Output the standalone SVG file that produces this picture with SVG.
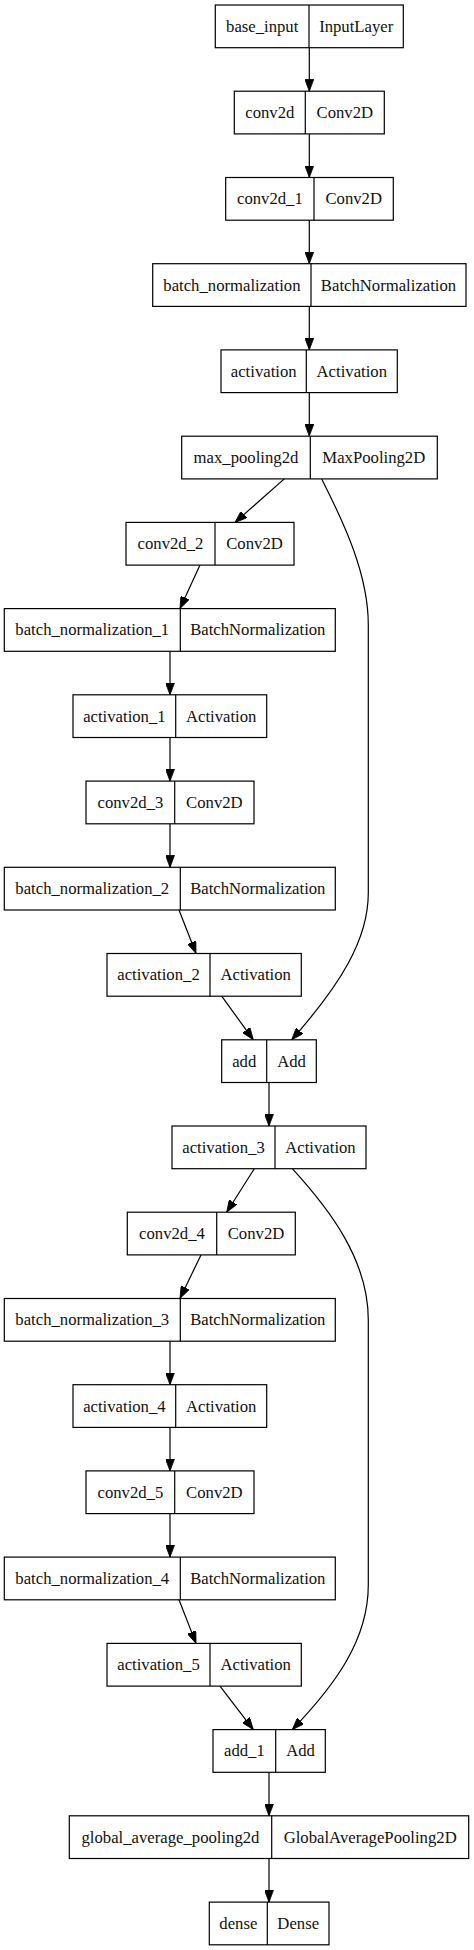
<svg xmlns="http://www.w3.org/2000/svg" width="474" height="1950" viewBox="0 0 474 1950">
<style>
rect{fill:#fff;stroke:#000;stroke-width:1.2}
.d{stroke:#000;stroke-width:1.2}
text{font-family:"Liberation Serif","Times New Roman",serif;font-size:16.7px;fill:#111;text-anchor:middle}
.e path{fill:none;stroke:#000;stroke-width:1.2;marker-end:url(#ah)}
</style>
<defs>
<marker id="ah" markerUnits="userSpaceOnUse" viewBox="0 0 12 9" refX="12" refY="4.5" markerWidth="12" markerHeight="9" orient="auto">
<path d="M0,0 L12,4.5 L0,9 z" fill="#000" stroke="#000" stroke-width="0.8"/>
</marker>
</defs>
<rect x="0" y="0" width="474" height="1950" style="stroke:none"/>
<g class="e" id="edges">
<path d="M309.3,47.7 L309.3,91.2"/>
<path d="M309.3,133.9 L309.3,177.5"/>
<path d="M309.3,220.2 L309.3,263.7"/>
<path d="M309.3,306.4 L309.3,349.9"/>
<path d="M309.3,392.6 L309.3,436.1"/>
<path d="M284.3,478.9 L235,522.4"/>
<path d="M321.7,478.9 C345,525 368.3,575 368.3,625 L368.3,893 C368.3,940 340,985 291.7,1039.8"/>
<path d="M200,565.1 L180,608.6"/>
<path d="M170,651.3 L170,694.8"/>
<path d="M170,737.5 L170,781.1"/>
<path d="M170,823.8 L170,867.3"/>
<path d="M179,910 L196,953.5"/>
<path d="M221.7,996.2 L253.3,1039.8"/>
<path d="M269,1082.5 L269,1126"/>
<path d="M254.3,1168.7 L226.7,1212.2"/>
<path d="M292.3,1168.7 C330,1210 368.3,1260 368.3,1320 L368.3,1585 C368.3,1640 335,1685 292.3,1729.6"/>
<path d="M201,1254.9 L180,1298.4"/>
<path d="M170,1341.2 L170,1384.7"/>
<path d="M170,1427.4 L170,1470.9"/>
<path d="M170,1513.6 L170,1557.1"/>
<path d="M179,1599.8 L196,1643.4"/>
<path d="M220,1686.1 L253.3,1729.6"/>
<path d="M269,1772.3 L269,1815.8"/>
<path d="M269,1858.5 L269,1902.1"/>
</g>
<g id="base_input"><rect x="215.3" y="5" width="188" height="42.7"/><line class="d" x1="309" y1="5" x2="309" y2="47.7"/><text x="262.2" y="31.8">base_input</text><text x="356.2" y="31.8">InputLayer</text></g>
<g id="conv2d"><rect x="234.3" y="91.2" width="150" height="42.7"/><line class="d" x1="305.3" y1="91.2" x2="305.3" y2="133.9"/><text x="269.8" y="118">conv2d</text><text x="344.8" y="118">Conv2D</text></g>
<g id="conv2d_1"><rect x="225.7" y="177.5" width="167.6" height="42.7"/><line class="d" x1="314" y1="177.5" x2="314" y2="220.2"/><text x="269.9" y="204.3">conv2d_1</text><text x="353.7" y="204.3">Conv2D</text></g>
<g id="batch_normalization"><rect x="152.7" y="263.7" width="313.3" height="42.7"/><line class="d" x1="311" y1="263.7" x2="311" y2="306.4"/><text x="231.9" y="290.5">batch_normalization</text><text x="388.5" y="290.5">BatchNormalization</text></g>
<g id="activation"><rect x="221" y="349.9" width="176.3" height="42.7"/><line class="d" x1="306.3" y1="349.9" x2="306.3" y2="392.6"/><text x="263.7" y="376.7">activation</text><text x="351.8" y="376.7">Activation</text></g>
<g id="max_pooling2d"><rect x="181.7" y="436.2" width="255.6" height="42.7"/><line class="d" x1="310.3" y1="436.2" x2="310.3" y2="478.9"/><text x="246" y="463">max_pooling2d</text><text x="373.8" y="463">MaxPooling2D</text></g>
<g id="conv2d_2"><rect x="126" y="522.4" width="168" height="42.7"/><line class="d" x1="215" y1="522.4" x2="215" y2="565.1"/><text x="170.5" y="549.2">conv2d_2</text><text x="254.5" y="549.2">Conv2D</text></g>
<g id="batch_normalization_1"><rect x="4.3" y="608.6" width="331" height="42.7"/><line class="d" x1="180.3" y1="608.6" x2="180.3" y2="651.3"/><text x="92.3" y="635.4">batch_normalization_1</text><text x="257.8" y="635.4">BatchNormalization</text></g>
<g id="activation_1"><rect x="73" y="694.8" width="193.7" height="42.7"/><line class="d" x1="175.7" y1="694.8" x2="175.7" y2="737.5"/><text x="124.4" y="721.6">activation_1</text><text x="221.2" y="721.6">Activation</text></g>
<g id="conv2d_3"><rect x="86" y="781.1" width="168" height="42.7"/><line class="d" x1="174.7" y1="781.1" x2="174.7" y2="823.8"/><text x="130.4" y="807.9">conv2d_3</text><text x="214.4" y="807.9">Conv2D</text></g>
<g id="batch_normalization_2"><rect x="4.3" y="867.3" width="331" height="42.7"/><line class="d" x1="180.3" y1="867.3" x2="180.3" y2="910"/><text x="92.3" y="894.1">batch_normalization_2</text><text x="257.8" y="894.1">BatchNormalization</text></g>
<g id="activation_2"><rect x="107" y="953.5" width="194.3" height="42.7"/><line class="d" x1="210" y1="953.5" x2="210" y2="996.2"/><text x="158.5" y="980.3">activation_2</text><text x="255.7" y="980.3">Activation</text></g>
<g id="add"><rect x="221.7" y="1039.8" width="94.6" height="42.7"/><line class="d" x1="266.7" y1="1039.8" x2="266.7" y2="1082.5"/><text x="244.2" y="1066.6">add</text><text x="291.5" y="1066.6">Add</text></g>
<g id="activation_3"><rect x="172" y="1126" width="194" height="42.7"/><line class="d" x1="275" y1="1126" x2="275" y2="1168.7"/><text x="223.5" y="1152.8">activation_3</text><text x="320.5" y="1152.8">Activation</text></g>
<g id="conv2d_4"><rect x="127.3" y="1212.2" width="168" height="42.7"/><line class="d" x1="216.7" y1="1212.2" x2="216.7" y2="1254.9"/><text x="172" y="1239">conv2d_4</text><text x="256" y="1239">Conv2D</text></g>
<g id="batch_normalization_3"><rect x="4.3" y="1298.5" width="331" height="42.7"/><line class="d" x1="180.3" y1="1298.5" x2="180.3" y2="1341.2"/><text x="92.3" y="1325.3">batch_normalization_3</text><text x="257.8" y="1325.3">BatchNormalization</text></g>
<g id="activation_4"><rect x="73" y="1384.7" width="193.7" height="42.7"/><line class="d" x1="175.7" y1="1384.7" x2="175.7" y2="1427.4"/><text x="124.4" y="1411.5">activation_4</text><text x="221.2" y="1411.5">Activation</text></g>
<g id="conv2d_5"><rect x="86" y="1470.9" width="168" height="42.7"/><line class="d" x1="174.7" y1="1470.9" x2="174.7" y2="1513.6"/><text x="130.4" y="1497.7">conv2d_5</text><text x="214.4" y="1497.7">Conv2D</text></g>
<g id="batch_normalization_4"><rect x="4.3" y="1557.1" width="331" height="42.7"/><line class="d" x1="180.3" y1="1557.1" x2="180.3" y2="1599.8"/><text x="92.3" y="1583.9">batch_normalization_4</text><text x="257.8" y="1583.9">BatchNormalization</text></g>
<g id="activation_5"><rect x="107" y="1643.4" width="194.3" height="42.7"/><line class="d" x1="210" y1="1643.4" x2="210" y2="1686.1"/><text x="158.5" y="1670.2">activation_5</text><text x="255.7" y="1670.2">Activation</text></g>
<g id="add_1"><rect x="213" y="1729.6" width="112.3" height="42.7"/><line class="d" x1="275.7" y1="1729.6" x2="275.7" y2="1772.3"/><text x="244.4" y="1756.4">add_1</text><text x="300.5" y="1756.4">Add</text></g>
<g id="global_average_pooling2d"><rect x="69.3" y="1815.8" width="399.4" height="42.7"/><line class="d" x1="271.7" y1="1815.8" x2="271.7" y2="1858.5"/><text x="170.5" y="1842.6">global_average_pooling2d</text><text x="370.2" y="1842.6">GlobalAveragePooling2D</text></g>
<g id="dense"><rect x="209.3" y="1902.1" width="119.7" height="42.7"/><line class="d" x1="267.3" y1="1902.1" x2="267.3" y2="1944.8"/><text x="238.3" y="1928.9">dense</text><text x="298.2" y="1928.9">Dense</text></g>
</svg>
